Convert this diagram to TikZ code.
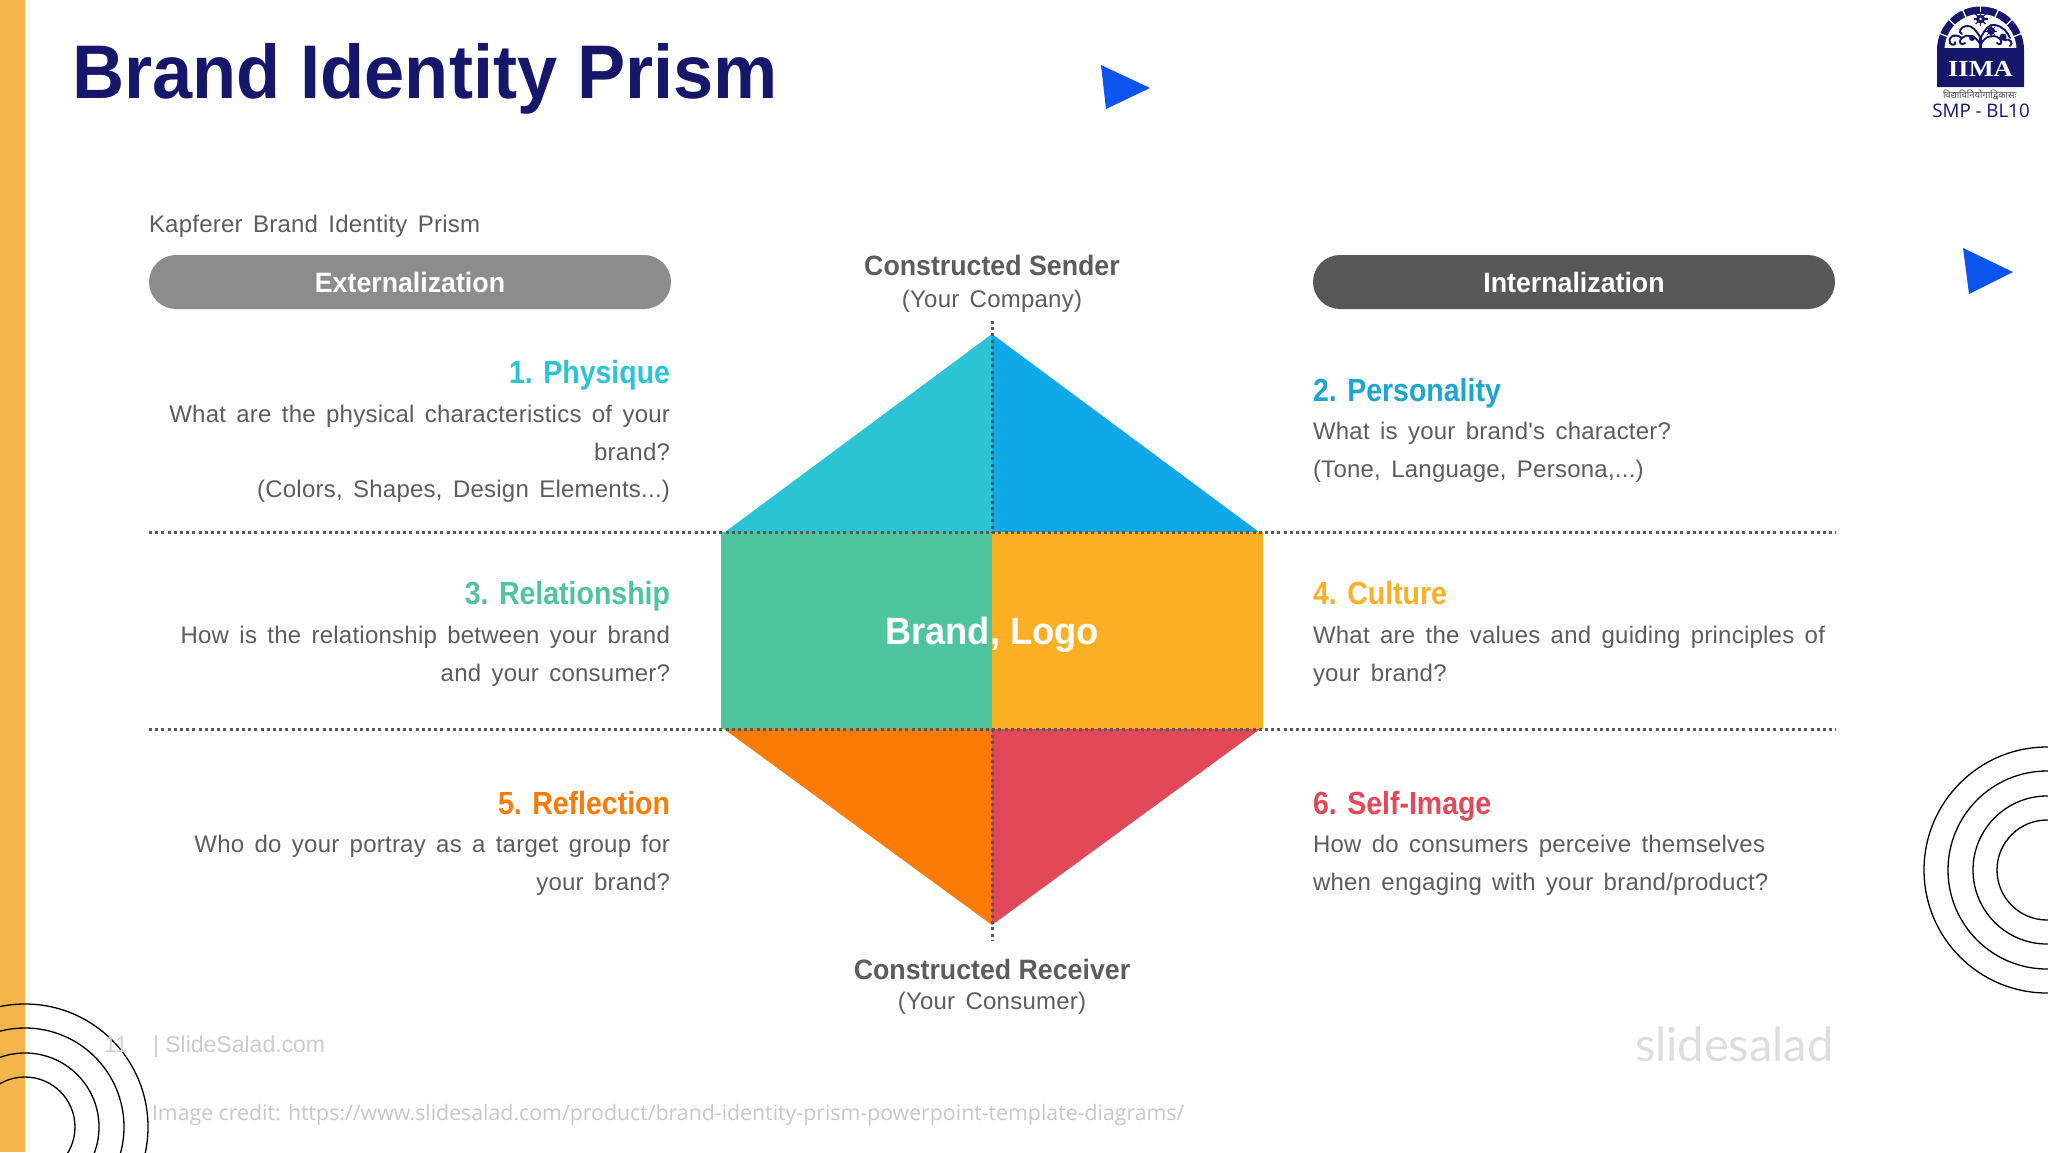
\documentclass[tikz,border=0pt]{standalone}
\usepackage{fontspec}
\setmainfont{Liberation Sans}
\newfontfamily\titlef{Liberation Sans}[FakeStretch=0.95]
\newfontfamily\plexf{Open Sans}
\newfontfamily\latof{Lato}
\newfontfamily\serf{Liberation Serif}[FakeStretch=1.15]
\newfontfamily\devf[Script=Devanagari]{Noto Sans}
\newfontfamily\bodyf{Liberation Sans}[WordSpace=1.5,LetterSpace=1]
\newfontfamily\headf{Liberation Sans}[FakeStretch=0.89]
\newfontfamily\midf{Liberation Sans}[FakeStretch=0.955]
\definecolor{navy}{HTML}{16166B}
\definecolor{barc}{HTML}{F4B64A}
\definecolor{bodyc}{HTML}{5C5C60}
\definecolor{pilla}{HTML}{8C8C8E}
\definecolor{pillb}{HTML}{58585B}
\definecolor{cteal}{HTML}{2AC4D4}
\definecolor{cblue}{HTML}{0FA8E8}
\definecolor{hblue}{HTML}{1CA5CF}
\definecolor{cgreen}{HTML}{4EC5A0}
\definecolor{cyell}{HTML}{FBB024}
\definecolor{corg}{HTML}{FA7B05}
\definecolor{cred}{HTML}{E34858}
\definecolor{arrowc}{HTML}{0B55EE}
\newcommand{\fs}[1]{\fontsize{#1}{#1}\selectfont}
\tikzset{
  x=1pt,y=-1pt,
  txt/.style={inner sep=0pt,outer sep=0pt},
  lft/.style={txt,anchor=base west},
  rgt/.style={txt,anchor=base east},
  ctr/.style={txt,anchor=base},
  body/.style={text=bodyc,font=\bodyf\fs{24}},
  headg/.style={font=\headf\fs{32}\bfseries},
  centh/.style={ctr,text=bodyc,font=\midf\fs{28}\bfseries},
  dots/.style={line width=3pt,dash pattern=on 3pt off 3.2pt,color=pillb},
  pill/.style={rounded corners=27pt,minimum width=522pt,minimum height=54pt,inner sep=0pt,text=white,font=\midf\fs{28}\bfseries},
  ringl/.style={black,line width=1.3pt},
  play/.style={fill=arrowc,draw=none},
  orn/.style={navy,line width=1.9pt,line cap=round},
}
\begin{document}
\begin{tikzpicture}
\useasboundingbox (0,0) rectangle (2048,1152);
\fill[white] (0,0) rectangle (2048,1152);
\fill[barc] (0,0) rectangle (25,1152);
% rings
\begin{scope}
\clip (0,0) rectangle (2048,1152);
\foreach \r in {123,99,74,50}{\draw[ringl] (25,1127) circle[radius=\r];\draw[ringl] (2047,870) circle[radius=\r];}
\end{scope}
% title
\node[lft,text=navy,font=\titlef\fs{76}\bfseries] (title) at (72,98) {Brand Identity Prism};
% play marks
\fill[play] (1101,65) -- (1150,88) -- (1106,109) -- cycle;
\fill[play] (1963,248) -- (2013,272) -- (1969,294) -- cycle;
% logo
\fill[navy] (1937,87) -- (1937,50) arc[start angle=180,end angle=360,radius=43.5] -- (2024,87) -- cycle;
\foreach \a in {22,44,66,90,114,136,158}{\draw[white,line width=1.3pt] (1980.5,50) ++(\a:-36) -- ++(\a:-9);}
\begin{scope}
\clip (1937,8) rectangle (2024,47);
\fill[white] (1980.5,50) circle[radius=36];
\end{scope}
\draw[navy,line width=3pt] (1980.5,48) -- (1980.5,36);
\draw[orn] (1980.5,38) .. controls (1976,30) and (1972,25) .. (1966,26) .. controls (1960,27) and (1958,33) .. (1962,34);
\draw[orn] (1980.5,38) .. controls (1985,30) and (1988,24) .. (1995,25) .. controls (2002,26) and (2008,32) .. (2010,38);
\draw[orn] (1980,44) .. controls (1976,36) and (1968,33) .. (1962,38) .. controls (1957,43) and (1962,46) .. (1965,43);
\draw[orn] (1981,44) .. controls (1985,36) and (1993,34) .. (1999,38) .. controls (2004,43) and (2000,46) .. (1997,43);
\draw[orn] (1962,38) .. controls (1954,32) and (1947,38) .. (1950,43) .. controls (1952,46) and (1956,45) .. (1955,42);
\draw[orn] (2004,40) .. controls (2010,38) and (2014,43) .. (2010,46);
\foreach \cx/\cy/\rr in {1980.5/19/4.5,1972/38/3,1991/31/4,2003/37/3.5,1954/36/1.5}{\fill[navy] (\cx,\cy) circle[radius=\rr];}
\foreach \a in {0,45,...,315}{\draw[navy,line width=1.1pt] (1980.5,19) -- ++(\a:7);\draw[navy,line width=1pt] (1991,31) -- ++(\a:6);}
\fill[white] (1980.5,19) circle[radius=1.3];
\node[ctr,text=white,font=\serf\fs{23}\bfseries] (iima) at (1980.5,76) {IIMA};
\node[lft,text=black!70,font=\devf\fs{9.5}] (motto) at (1943,98) {विद्याविनियोगाद्विकासः};
\node[ctr,text=navy,font=\plexf\fs{18.7}] (smp) at (1981,117) {SMP - BL10};
% hexagon
\fill[cteal] (725,532) -- (992,334) -- (992,532) -- cycle;
\fill[cblue] (992,334) -- (1259,532) -- (992,532) -- cycle;
\fill[cgreen] (721,532) rectangle (992,729);
\fill[cyell] (992,532) rectangle (1263,729);
\fill[corg] (724,729) -- (992,729) -- (992,925) -- cycle;
\fill[cred] (992,729) -- (1260,729) -- (992,925) -- cycle;
% dotted
\coordinate (la) at (149,532); \coordinate (ra) at (1836,532);
\coordinate (lb) at (149,729); \coordinate (rb) at (1836,729);
\coordinate (ta) at (992,321); \coordinate (tb) at (992,940);
\draw[dots] (la) -- (ra);
\draw[dots] (lb) -- (rb);
\draw[dots] (ta) -- (992,532);
\draw[dots] (992,729) -- (tb);
% center text
\node[ctr,text=white,font=\midf\fs{38}\bfseries] (brand) at (992,644) {Brand, Logo};
\node[centh] (cs) at (992,275) {Constructed Sender};
\node[ctr,body] (cs2) at (992,307) {(Your Company)};
\node[centh] (cr) at (992,979) {Constructed Receiver};
\node[ctr,body] (cr2) at (992,1009) {(Your Consumer)};
% pills
\node[lft,body] (kap) at (149,232) {Kapferer Brand Identity Prism};
\node[pill,fill=pilla] (ext) at (410,282) {Externalization};
\node[pill,fill=pillb] (int) at (1574,282) {Internalization};
% left column
\node[rgt,headg,text=cteal] at (670,383) {1. Physique};
\node[rgt,body] at (670,422) {What are the physical characteristics of your};
\node[rgt,body] at (670,460) {brand?};
\node[rgt,body] at (670,497) {(Colors, Shapes, Design Elements...)};
\node[rgt,headg,text=cgreen] at (670,604) {3. Relationship};
\node[rgt,body] at (670,643) {How is the relationship between your brand};
\node[rgt,body] at (670,681) {and your consumer?};
\node[rgt,headg,text=corg] at (670,814) {5. Reflection};
\node[rgt,body] at (670,852) {Who do your portray as a target group for};
\node[rgt,body] at (670,890) {your brand?};
% right column
\node[lft,headg,text=hblue] at (1313,401) {2. Personality};
\node[lft,body] at (1313,439) {What is your brand's character?};
\node[lft,body] at (1313,477) {(Tone, Language, Persona,...)};
\node[lft,headg,text=cyell] at (1313,604) {4. Culture};
\node[lft,body] at (1313,643) {What are the values and guiding principles of};
\node[lft,body] at (1313,681) {your brand?};
\node[lft,headg,text=cred] at (1313,814) {6. Self-Image};
\node[lft,body] at (1313,852) {How do consumers perceive themselves};
\node[lft,body] at (1313,890) {when engaging with your brand/product?};
% footer
\node[lft,text=black!18,font=\fs{23}] (pg) at (104,1052) {11};
\node[lft,text=black!20,font=\fs{23}] (ss) at (153,1052) {| SlideSalad.com};
\node[lft,text=black!22,font=\plexf\fs{21.3}] (crd) at (152,1120) {Image credit: https://www.slidesalad.com/product/brand-identity-prism-powerpoint-template-diagrams/};
\node[lft,text=black!13,font=\latof\fs{47}] (sl) at (1635,1061) {slidesalad};
\end{tikzpicture}
\end{document}
